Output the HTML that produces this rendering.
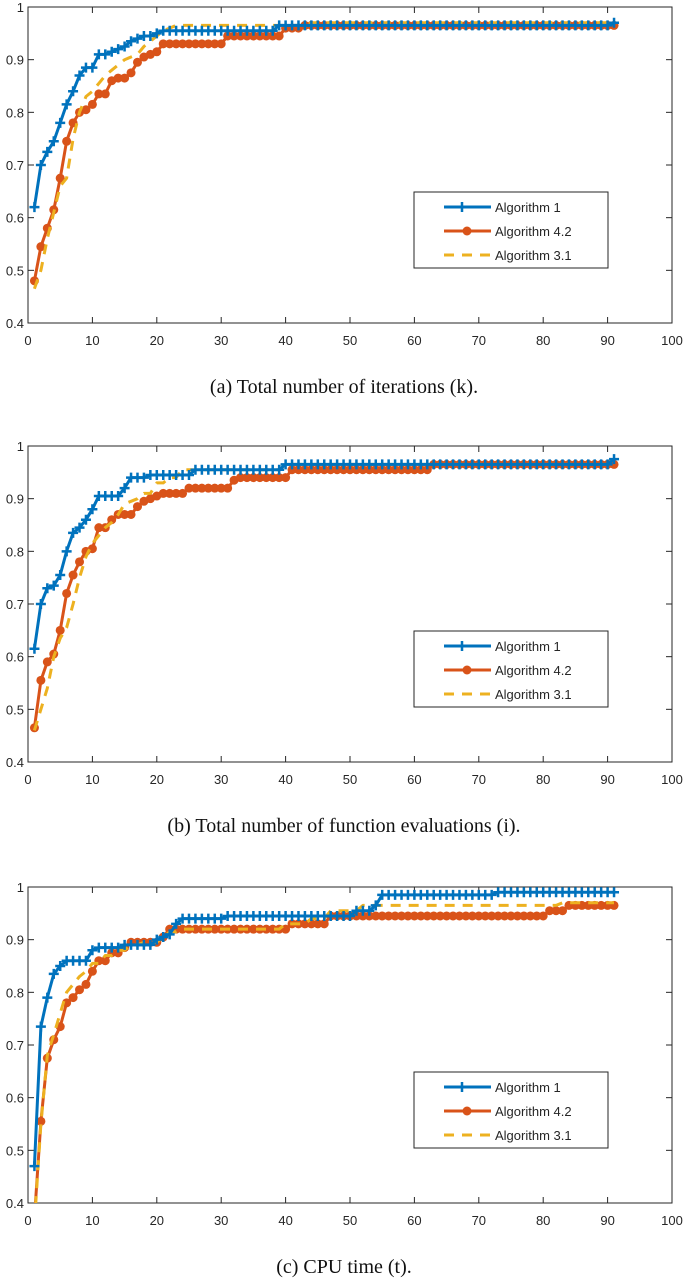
<!DOCTYPE html>
<html><head><meta charset="utf-8"><style>
body{margin:0;background:#fff;width:685px;height:1279px;overflow:hidden}
svg{display:block}
</style></head><body>
<svg id="fig" width="685" height="1279" xmlns="http://www.w3.org/2000/svg"></svg>
<script>
// Step data: breakpoint x values and the value held from that x on
const a1X=[1,2,3,4,5,6,7,8,9,11,13,14,15,16,17,18,20,21,39,91];
const a1Y=[0.62,0.70,0.725,0.745,0.78,0.815,0.84,0.87,0.885,0.91,0.915,0.92,0.925,0.935,0.94,0.945,0.95,0.955,0.965,0.97];
const a2X=[1,2,3,4,5,6,7,8,9,10,11,13,14,16,17,18,19,20,21,31,40,43];
const a2Y=[0.48,0.545,0.58,0.615,0.675,0.745,0.78,0.80,0.805,0.815,0.835,0.86,0.865,0.875,0.895,0.905,0.91,0.915,0.93,0.945,0.96,0.965];
const a3X=[1,2,3,4,5,6,7,8,9,10,11,12,13,14,15,16,17,18,19,20,21,22,23,44];
const a3Y=[0.465,0.50,0.56,0.61,0.66,0.675,0.75,0.80,0.83,0.84,0.855,0.87,0.88,0.89,0.90,0.905,0.91,0.925,0.935,0.945,0.955,0.96,0.965,0.97];

const b1X=[1,2,3,4,5,6,7,8,9,10,11,15,16,19,26,40,91];
const b1Y=[0.615,0.70,0.73,0.735,0.755,0.80,0.835,0.845,0.86,0.88,0.905,0.92,0.94,0.945,0.955,0.965,0.975];
const b2X=[1,2,3,4,5,6,7,8,9,10,11,13,14,17,18,19,20,21,25,32,33,41,63];
const b2Y=[0.465,0.555,0.59,0.605,0.65,0.72,0.755,0.78,0.80,0.805,0.845,0.86,0.87,0.885,0.895,0.90,0.905,0.91,0.92,0.935,0.94,0.955,0.965];
const b3X=[1,2,3,4,5,6,7,8,9,10,11,12,13,14,15,16,17,18,20,22,24,40,91];
const b3Y=[0.46,0.50,0.54,0.60,0.635,0.655,0.70,0.75,0.79,0.815,0.83,0.845,0.855,0.87,0.89,0.895,0.90,0.91,0.93,0.94,0.955,0.965,0.97];

const c1X=[1,2,3,4,5,6,10,11,15,20,21,22,23,24,31,51,54,55,73];
const c1Y=[0.47,0.735,0.79,0.835,0.85,0.86,0.88,0.885,0.89,0.90,0.905,0.91,0.93,0.94,0.945,0.955,0.965,0.985,0.99];
const c2X=[1,2,3,4,5,6,7,8,9,10,11,13,15,16,21,22,41,47,81,84];
const c2Y=[0.37,0.555,0.675,0.71,0.735,0.78,0.79,0.805,0.815,0.84,0.86,0.875,0.885,0.895,0.905,0.92,0.93,0.945,0.955,0.965];
const c3X=[1,2,3,4,5,6,7,8,9,10,12,14,16,18,21,22,24,40,44,47,52,83];
const c3Y=[0.36,0.55,0.68,0.72,0.76,0.80,0.815,0.83,0.84,0.855,0.87,0.88,0.89,0.895,0.905,0.915,0.92,0.93,0.94,0.955,0.965,0.97];

const xTicks=[0,10,20,30,40,50,60,70,80,90,100];
const yTicks=[0.4,0.5,0.6,0.7,0.8,0.9,1];
const legendLabels=["Algorithm 1","Algorithm 4.2","Algorithm 3.1"];
const captions=["(a)  Total number of iterations (k).","(b)  Total number of function evaluations (i).","(c)  CPU time (t)."];
const XMAX=91;

const NS="http://www.w3.org/2000/svg";
const fig=document.getElementById('fig');
function mk(tag,attrs,parent){const e=document.createElementNS(NS,tag);for(const k in attrs)e.setAttribute(k,attrs[k]);(parent||fig).appendChild(e);return e;}
function expand(xs,ys){const pts=[];for(let x=1;x<=XMAX;x++){let v=ys[0];for(let i=0;i<xs.length;i++){if(xs[i]<=x)v=ys[i];}pts.push([x,v]);}return pts;}

const L=28,R=672,H=316;
const tops=[7,446,887];
const colors=["#0072BD","#D95319","#EDB120"];
const panelNames=["iterations","function-evaluations","cpu-time"];
const datasets=[[[a1X,a1Y],[a2X,a2Y],[a3X,a3Y]],[[b1X,b1Y],[b2X,b2Y],[b3X,b3Y]],[[c1X,c1Y],[c2X,c2Y],[c3X,c3Y]]];

tops.forEach((T,p)=>{
  const g=mk('g',{});
  
  
  const sx=x=>L+x*(R-L)/100;
  const sy=v=>T+(1-v)/0.6*H;
  const cid='clip'+p;
  const cp=mk('clipPath',{id:cid},g);mk('rect',{x:L,y:T,width:R-L,height:H},cp);
  // axes box
  const box=mk('rect',{x:L,y:T,width:R-L,height:H,fill:'none',stroke:'#262626','stroke-width':1},g);
  
  
  xTicks.forEach(t=>{
    const x=sx(t);
    mk('line',{x1:x,x2:x,y1:T+H,y2:T+H-6,stroke:'#262626'},g);
    mk('line',{x1:x,x2:x,y1:T,y2:T+6,stroke:'#262626'},g);
    const tx=mk('text',{x:x,y:T+H+22,'text-anchor':'middle','font-size':13,'font-family':'Liberation Sans, sans-serif',fill:'#262626'},g);
    tx.textContent=t;
    
    
  });
  yTicks.forEach(t=>{
    const y=sy(t);
    mk('line',{x1:L,x2:L+6,y1:y,y2:y,stroke:'#262626'},g);
    mk('line',{x1:R,x2:R-6,y1:y,y2:y,stroke:'#262626'},g);
    const ty=mk('text',{x:L-4,y:y+5,'text-anchor':'end','font-size':13,'font-family':'Liberation Sans, sans-serif',fill:'#262626'},g);
    ty.textContent=t;
    
    
  });
  const cg=mk('g',{'clip-path':'url(#'+cid+')'},g);
  // draw order: orange, yellow dashed, blue
  [1,2,0].forEach(s=>{
    const pts=expand(datasets[p][s][0],datasets[p][s][1]);
    const d=pts.map((q,i)=>(i?'L':'M')+sx(q[0]).toFixed(1)+' '+sy(q[1]).toFixed(1)).join(' ');
    const ln=mk('path',{d:d,fill:'none',stroke:colors[s],'stroke-width':3,'stroke-linejoin':'round'},cg);
    if(s===2)ln.setAttribute('stroke-dasharray','10 8');
    
    
    if(s===0){pts.forEach(q=>{const x=sx(q[0]),y=sy(q[1]);
      const m=mk('path',{d:`M${x-5} ${y}H${x+5}M${x} ${y-5}V${y+5}`,stroke:colors[0],'stroke-width':2.5},cg);
      
      });}
    if(s===1){pts.forEach(q=>{
      const m=mk('circle',{cx:sx(q[0]),cy:sy(q[1]),r:4.5,fill:colors[1]},cg);
      
      });}
  });
  // legend
  const lg=mk('g',{},g);
  
  
  mk('rect',{x:414,y:T+185,width:194,height:76,fill:'#fff',stroke:'#262626','stroke-width':1},lg);
  legendLabels.forEach((lab,i)=>{
    const y=T+200+i*24;
    const sl=mk('line',{x1:444,x2:491,y1:y,y2:y,stroke:colors[i],'stroke-width':3},lg);
    if(i===2)sl.setAttribute('stroke-dasharray','10 8');
    if(i===0)mk('path',{d:`M462 ${y-5}V${y+5}M457 ${y}H467`,stroke:colors[0],'stroke-width':2.5},lg);
    if(i===1)mk('circle',{cx:467,cy:y,r:4.5,fill:colors[1]},lg);
    const t=mk('text',{x:495,y:y+5,'font-size':13,'font-family':'Liberation Sans, sans-serif',fill:'#262626'},lg);
    t.textContent=lab;
    
    
  });
  const cap=mk('text',{x:344,y:T+H+70,'text-anchor':'middle','font-size':20,'font-family':'Liberation Serif, serif',fill:'#111'},g);
  cap.textContent=captions[p];
  
  
});
</script>
</body></html>
